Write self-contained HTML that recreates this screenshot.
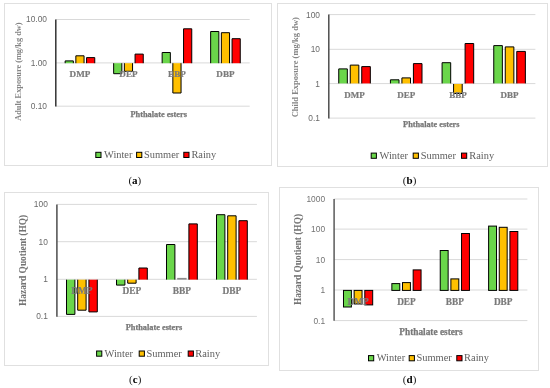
<!DOCTYPE html>
<html><head><meta charset="utf-8"><title>Phthalate esters exposure charts</title>
<style>
html,body{margin:0;padding:0;background:#fff;}
svg{display:block;filter:blur(0.3px);}
text{font-family:"Liberation Serif",serif;}
.tick{font-family:"Liberation Sans",sans-serif;font-size:8.4px;fill:#595959;text-anchor:end;}
.cat{font-weight:bold;fill:#7a7a7a;stroke:#7a7a7a;stroke-width:0.2px;text-anchor:middle;}
.xt{font-weight:bold;fill:#787878;stroke:#787878;stroke-width:0.25px;text-anchor:middle;}
.yt{font-weight:bold;fill:#858585;text-anchor:middle;}
.leg{fill:#606060;}
.cap{font-weight:bold;fill:#000;font-size:11px;text-anchor:middle;}
.par{font-weight:normal;fill:#1a1a1a;}
</style></head>
<body>
<svg width="550" height="388" viewBox="0 0 550 388">
<rect width="550" height="388" fill="#fff"/>
<rect x="4.5" y="3.5" width="267" height="162" fill="none" stroke="#e0e0e0" stroke-width="1"/>
<line x1="55.7" y1="19.5" x2="249.7" y2="19.5" stroke="#d9d9d9" stroke-width="1"/>
<text x="47" y="22.4" class="tick" style="fill:#6a6a6a">10.00</text>
<line x1="55.7" y1="62.9" x2="249.7" y2="62.9" stroke="#d9d9d9" stroke-width="1"/>
<text x="47" y="65.8" class="tick" style="fill:#6a6a6a">1.00</text>
<line x1="55.7" y1="106.2" x2="249.7" y2="106.2" stroke="#d9d9d9" stroke-width="1"/>
<text x="47" y="109.10000000000001" class="tick" style="fill:#6a6a6a">0.10</text>
<rect x="65.15" y="60.90" width="8.20" height="2.30" fill="#6ad64a"/>
<path d="M65.15 63.20V60.90H73.35V63.20" fill="none" stroke="#000" stroke-width="1"/>
<rect x="75.85" y="55.80" width="8.20" height="7.40" fill="#ffc000"/>
<path d="M75.85 63.20V55.80H84.05V63.20" fill="none" stroke="#000" stroke-width="1"/>
<rect x="86.55" y="57.60" width="8.20" height="5.60" fill="#ff0000"/>
<path d="M86.55 63.20V57.60H94.75V63.20" fill="none" stroke="#000" stroke-width="1"/>
<rect x="113.65" y="63.20" width="8.20" height="10.50" fill="#6ad64a"/>
<path d="M113.65 63.20V73.70H121.85V63.20" fill="none" stroke="#000" stroke-width="1"/>
<rect x="124.35" y="63.20" width="8.20" height="8.10" fill="#ffc000"/>
<path d="M124.35 63.20V71.30H132.55V63.20" fill="none" stroke="#000" stroke-width="1"/>
<rect x="135.05" y="54.10" width="8.20" height="9.10" fill="#ff0000"/>
<path d="M135.05 63.20V54.10H143.25V63.20" fill="none" stroke="#000" stroke-width="1"/>
<rect x="162.15" y="52.50" width="8.20" height="10.70" fill="#6ad64a"/>
<path d="M162.15 63.20V52.50H170.35V63.20" fill="none" stroke="#000" stroke-width="1"/>
<rect x="172.85" y="63.20" width="8.20" height="29.80" fill="#ffc000"/>
<path d="M172.85 63.20V93.00H181.05V63.20" fill="none" stroke="#000" stroke-width="1"/>
<rect x="183.55" y="28.80" width="8.20" height="34.40" fill="#ff0000"/>
<path d="M183.55 63.20V28.80H191.75V63.20" fill="none" stroke="#000" stroke-width="1"/>
<rect x="210.65" y="31.50" width="8.20" height="31.70" fill="#6ad64a"/>
<path d="M210.65 63.20V31.50H218.85V63.20" fill="none" stroke="#000" stroke-width="1"/>
<rect x="221.35" y="32.70" width="8.20" height="30.50" fill="#ffc000"/>
<path d="M221.35 63.20V32.70H229.55V63.20" fill="none" stroke="#000" stroke-width="1"/>
<rect x="232.05" y="38.70" width="8.20" height="24.50" fill="#ff0000"/>
<path d="M232.05 63.20V38.70H240.25V63.20" fill="none" stroke="#000" stroke-width="1"/>
<line x1="55.8" y1="19.5" x2="55.8" y2="106.4" stroke="#333333" stroke-width="1.5"/>
<text x="79.95" y="77.3" class="cat" style="font-size:9.1px">DMP</text>
<text x="128.45" y="77.3" class="cat" style="font-size:9.1px">DEP</text>
<text x="176.95" y="77.3" class="cat" style="font-size:9.1px">BBP</text>
<text x="225.45" y="77.3" class="cat" style="font-size:9.1px">DBP</text>
<text x="158.7" y="117.2" class="xt" style="font-size:8.3px">Phthalate esters</text>
<text transform="translate(21.3,71.6) rotate(-90)" x="0" y="0" class="yt" style="font-size:8.3px;fill:#858585;stroke:#858585;stroke-width:0px">Adult Exposure (mg/kg dw)</text>
<rect x="95.8" y="152.3" width="5.2" height="5.2" fill="#6ad64a" stroke="#000" stroke-width="1"/>
<text x="104" y="157.8" class="leg" style="font-size:10.4px">Winter</text>
<rect x="136.6" y="152.3" width="5.2" height="5.2" fill="#ffc000" stroke="#000" stroke-width="1"/>
<text x="144" y="157.8" class="leg" style="font-size:10.4px">Summer</text>
<rect x="183.8" y="152.3" width="5.2" height="5.2" fill="#ff0000" stroke="#000" stroke-width="1"/>
<text x="191.4" y="157.8" class="leg" style="font-size:10.4px">Rainy</text>
<text x="134.8" y="184" class="cap"><tspan class="par">(</tspan>a<tspan class="par">)</tspan></text>
<rect x="277.5" y="3.5" width="270" height="163" fill="none" stroke="#e0e0e0" stroke-width="1"/>
<line x1="328.7" y1="14.6" x2="535.4" y2="14.6" stroke="#d9d9d9" stroke-width="1"/>
<text x="320" y="17.5" class="tick" style="fill:#6a6a6a">100</text>
<line x1="328.7" y1="49.3" x2="535.4" y2="49.3" stroke="#d9d9d9" stroke-width="1"/>
<text x="320" y="52.199999999999996" class="tick" style="fill:#6a6a6a">10</text>
<line x1="328.7" y1="83.6" x2="535.4" y2="83.6" stroke="#d9d9d9" stroke-width="1"/>
<text x="320" y="86.5" class="tick" style="fill:#6a6a6a">1</text>
<line x1="328.7" y1="118.1" x2="535.4" y2="118.1" stroke="#d9d9d9" stroke-width="1"/>
<text x="320" y="121.0" class="tick" style="fill:#6a6a6a">0.1</text>
<rect x="338.74" y="68.90" width="8.60" height="14.50" fill="#6ad64a"/>
<path d="M338.74 83.40V68.90H347.34V83.40" fill="none" stroke="#000" stroke-width="1"/>
<rect x="350.24" y="65.10" width="8.60" height="18.30" fill="#ffc000"/>
<path d="M350.24 83.40V65.10H358.84V83.40" fill="none" stroke="#000" stroke-width="1"/>
<rect x="361.74" y="66.60" width="8.60" height="16.80" fill="#ff0000"/>
<path d="M361.74 83.40V66.60H370.34V83.40" fill="none" stroke="#000" stroke-width="1"/>
<rect x="390.41" y="79.80" width="8.60" height="3.60" fill="#6ad64a"/>
<path d="M390.41 83.40V79.80H399.01V83.40" fill="none" stroke="#000" stroke-width="1"/>
<rect x="401.91" y="77.90" width="8.60" height="5.50" fill="#ffc000"/>
<path d="M401.91 83.40V77.90H410.51V83.40" fill="none" stroke="#000" stroke-width="1"/>
<rect x="413.41" y="63.60" width="8.60" height="19.80" fill="#ff0000"/>
<path d="M413.41 83.40V63.60H422.01V83.40" fill="none" stroke="#000" stroke-width="1"/>
<rect x="442.09" y="62.70" width="8.60" height="20.70" fill="#6ad64a"/>
<path d="M442.09 83.40V62.70H450.69V83.40" fill="none" stroke="#000" stroke-width="1"/>
<rect x="453.59" y="84.00" width="8.60" height="9.50" fill="#ffc000"/>
<path d="M453.59 84.00V93.50H462.19V84.00" fill="none" stroke="#000" stroke-width="1"/>
<rect x="465.09" y="43.50" width="8.60" height="39.90" fill="#ff0000"/>
<path d="M465.09 83.40V43.50H473.69V83.40" fill="none" stroke="#000" stroke-width="1"/>
<rect x="493.76" y="45.60" width="8.60" height="37.80" fill="#6ad64a"/>
<path d="M493.76 83.40V45.60H502.36V83.40" fill="none" stroke="#000" stroke-width="1"/>
<rect x="505.26" y="46.90" width="8.60" height="36.50" fill="#ffc000"/>
<path d="M505.26 83.40V46.90H513.86V83.40" fill="none" stroke="#000" stroke-width="1"/>
<rect x="516.76" y="51.40" width="8.60" height="32.00" fill="#ff0000"/>
<path d="M516.76 83.40V51.40H525.36V83.40" fill="none" stroke="#000" stroke-width="1"/>
<line x1="328.8" y1="14.6" x2="328.8" y2="118.4" stroke="#4d4d4d" stroke-width="1.5"/>
<text x="354.54" y="97.5" class="cat" style="font-size:9px">DMP</text>
<text x="406.21" y="97.5" class="cat" style="font-size:9px">DEP</text>
<text x="457.89" y="97.5" class="cat" style="font-size:9px">BBP</text>
<text x="509.56" y="97.5" class="cat" style="font-size:9px">DBP</text>
<text x="431.3" y="127" class="xt" style="font-size:8.3px">Phthalate esters</text>
<text transform="translate(298.3,67.2) rotate(-90)" x="0" y="0" class="yt" style="font-size:8.5px;fill:#858585;stroke:#858585;stroke-width:0px">Child Exposure (mg/kg dw)</text>
<rect x="371.2" y="153.1" width="5.2" height="5.2" fill="#6ad64a" stroke="#000" stroke-width="1"/>
<text x="379.6" y="158.6" class="leg" style="font-size:10.4px">Winter</text>
<rect x="413.2" y="153.1" width="5.2" height="5.2" fill="#ffc000" stroke="#000" stroke-width="1"/>
<text x="420.7" y="158.6" class="leg" style="font-size:10.4px">Summer</text>
<rect x="461.5" y="153.1" width="5.2" height="5.2" fill="#ff0000" stroke="#000" stroke-width="1"/>
<text x="469.3" y="158.6" class="leg" style="font-size:10.4px">Rainy</text>
<text x="409.6" y="183.8" class="cap"><tspan class="par">(</tspan>b<tspan class="par">)</tspan></text>
<rect x="4.5" y="192.5" width="264" height="173" fill="none" stroke="#e0e0e0" stroke-width="1"/>
<line x1="56.9" y1="204.4" x2="256.9" y2="204.4" stroke="#d9d9d9" stroke-width="1"/>
<text x="47.8" y="207.3" class="tick" style="fill:#6a6a6a">100</text>
<line x1="56.9" y1="241.7" x2="256.9" y2="241.7" stroke="#d9d9d9" stroke-width="1"/>
<text x="47.8" y="244.6" class="tick" style="fill:#6a6a6a">10</text>
<line x1="56.9" y1="279.3" x2="256.9" y2="279.3" stroke="#d9d9d9" stroke-width="1"/>
<text x="47.8" y="282.2" class="tick" style="fill:#6a6a6a">1</text>
<line x1="56.9" y1="316.4" x2="256.9" y2="316.4" stroke="#d9d9d9" stroke-width="1"/>
<text x="47.8" y="319.29999999999995" class="tick" style="fill:#6a6a6a">0.1</text>
<rect x="66.50" y="279.70" width="8.40" height="34.70" fill="#6ad64a"/>
<path d="M66.50 279.70V314.40H74.90V279.70" fill="none" stroke="#000" stroke-width="1"/>
<rect x="77.70" y="279.70" width="8.40" height="30.50" fill="#ffc000"/>
<path d="M77.70 279.70V310.20H86.10V279.70" fill="none" stroke="#000" stroke-width="1"/>
<rect x="88.90" y="279.70" width="8.40" height="32.20" fill="#ff0000"/>
<path d="M88.90 279.70V311.90H97.30V279.70" fill="none" stroke="#000" stroke-width="1"/>
<rect x="116.50" y="279.70" width="8.40" height="5.40" fill="#6ad64a"/>
<path d="M116.50 279.70V285.10H124.90V279.70" fill="none" stroke="#000" stroke-width="1"/>
<rect x="127.70" y="279.70" width="8.40" height="3.50" fill="#ffc000"/>
<path d="M127.70 279.70V283.20H136.10V279.70" fill="none" stroke="#000" stroke-width="1"/>
<rect x="138.90" y="268.00" width="8.40" height="11.60" fill="#ff0000"/>
<path d="M138.90 279.60V268.00H147.30V279.60" fill="none" stroke="#000" stroke-width="1"/>
<rect x="166.50" y="244.50" width="8.40" height="35.10" fill="#6ad64a"/>
<path d="M166.50 279.60V244.50H174.90V279.60" fill="none" stroke="#000" stroke-width="1"/>
<rect x="177.20" y="277.90" width="9.40" height="1.70" fill="#8c8c8c"/>
<rect x="188.90" y="223.90" width="8.40" height="55.70" fill="#ff0000"/>
<path d="M188.90 279.60V223.90H197.30V279.60" fill="none" stroke="#000" stroke-width="1"/>
<rect x="216.50" y="214.70" width="8.40" height="64.90" fill="#6ad64a"/>
<path d="M216.50 279.60V214.70H224.90V279.60" fill="none" stroke="#000" stroke-width="1"/>
<rect x="227.70" y="215.80" width="8.40" height="63.80" fill="#ffc000"/>
<path d="M227.70 279.60V215.80H236.10V279.60" fill="none" stroke="#000" stroke-width="1"/>
<rect x="238.90" y="220.70" width="8.40" height="58.90" fill="#ff0000"/>
<path d="M238.90 279.60V220.70H247.30V279.60" fill="none" stroke="#000" stroke-width="1"/>
<line x1="56.9" y1="204.4" x2="56.9" y2="316.7" stroke="#4d4d4d" stroke-width="1.5"/>
<text x="81.90" y="293.9" class="cat" style="font-size:9.4px">DMP</text>
<text x="131.90" y="293.9" class="cat" style="font-size:9.4px">DEP</text>
<text x="181.90" y="293.9" class="cat" style="font-size:9.4px">BBP</text>
<text x="231.90" y="293.9" class="cat" style="font-size:9.4px">DBP</text>
<text x="154" y="329.7" class="xt" style="font-size:8.3px">Phthalate esters</text>
<text transform="translate(26,260.4) rotate(-90)" x="0" y="0" class="yt" style="font-size:9.4px;fill:#737373;stroke:#737373;stroke-width:0.05px">Hazard Quotient (HQ)</text>
<rect x="96.6" y="351.0" width="5.2" height="5.2" fill="#6ad64a" stroke="#000" stroke-width="1"/>
<text x="104.6" y="356.5" class="leg" style="font-size:10.4px">Winter</text>
<rect x="139.2" y="351.0" width="5.2" height="5.2" fill="#ffc000" stroke="#000" stroke-width="1"/>
<text x="146.5" y="356.5" class="leg" style="font-size:10.4px">Summer</text>
<rect x="188.2" y="351.0" width="5.2" height="5.2" fill="#ff0000" stroke="#000" stroke-width="1"/>
<text x="195.3" y="356.5" class="leg" style="font-size:10.4px">Rainy</text>
<text x="135.2" y="382.5" class="cap"><tspan class="par">(</tspan>c<tspan class="par">)</tspan></text>
<rect x="279.5" y="187.5" width="259" height="183" fill="none" stroke="#e0e0e0" stroke-width="1"/>
<line x1="333.9" y1="199" x2="527.4" y2="199" stroke="#d9d9d9" stroke-width="1"/>
<text x="325.1" y="201.9" class="tick" style="fill:#737373">1000</text>
<line x1="333.9" y1="229.1" x2="527.4" y2="229.1" stroke="#d9d9d9" stroke-width="1"/>
<text x="325.1" y="232.0" class="tick" style="fill:#737373">100</text>
<line x1="333.9" y1="259.6" x2="527.4" y2="259.6" stroke="#d9d9d9" stroke-width="1"/>
<text x="325.1" y="262.5" class="tick" style="fill:#737373">10</text>
<line x1="333.9" y1="290" x2="527.4" y2="290" stroke="#d9d9d9" stroke-width="1"/>
<text x="325.1" y="292.9" class="tick" style="fill:#737373">1</text>
<line x1="333.9" y1="320.6" x2="527.4" y2="320.6" stroke="#d9d9d9" stroke-width="1"/>
<text x="325.1" y="323.5" class="tick" style="fill:#737373">0.1</text>
<rect x="343.49" y="290.40" width="7.90" height="16.60" fill="#6ad64a" stroke="#000" stroke-width="1"/>
<rect x="354.14" y="290.40" width="7.90" height="13.50" fill="#ffc000" stroke="#000" stroke-width="1"/>
<rect x="364.79" y="290.40" width="7.90" height="14.50" fill="#ff0000" stroke="#000" stroke-width="1"/>
<rect x="391.86" y="283.60" width="7.90" height="6.80" fill="#6ad64a" stroke="#000" stroke-width="1"/>
<rect x="402.51" y="282.60" width="7.90" height="7.80" fill="#ffc000" stroke="#000" stroke-width="1"/>
<rect x="413.16" y="269.90" width="7.90" height="20.50" fill="#ff0000" stroke="#000" stroke-width="1"/>
<rect x="440.24" y="250.50" width="7.90" height="39.90" fill="#6ad64a" stroke="#000" stroke-width="1"/>
<rect x="450.89" y="278.90" width="7.90" height="11.50" fill="#ffc000" stroke="#000" stroke-width="1"/>
<rect x="461.54" y="233.50" width="7.90" height="56.90" fill="#ff0000" stroke="#000" stroke-width="1"/>
<rect x="488.61" y="226.10" width="7.90" height="64.30" fill="#6ad64a" stroke="#000" stroke-width="1"/>
<rect x="499.26" y="227.30" width="7.90" height="63.10" fill="#ffc000" stroke="#000" stroke-width="1"/>
<rect x="509.91" y="231.50" width="7.90" height="58.90" fill="#ff0000" stroke="#000" stroke-width="1"/>
<line x1="334.1" y1="199" x2="334.1" y2="320.8" stroke="#5a5a5a" stroke-width="1.5"/>
<text x="358.09" y="304.8" class="cat" style="font-size:9.3px">DMP</text>
<text x="406.46" y="304.8" class="cat" style="font-size:9.3px">DEP</text>
<text x="454.84" y="304.8" class="cat" style="font-size:9.3px">BBP</text>
<text x="503.21" y="304.8" class="cat" style="font-size:9.3px">DBP</text>
<text x="431" y="334.8" class="xt" style="font-size:9.3px">Phthalate esters</text>
<text transform="translate(300.6,259.5) rotate(-90)" x="0" y="0" class="yt" style="font-size:9.4px;fill:#737373;stroke:#737373;stroke-width:0.05px">Hazard Quotient (HQ)</text>
<rect x="368.5" y="355.6" width="5.2" height="5.2" fill="#6ad64a" stroke="#000" stroke-width="1"/>
<text x="376.7" y="361.1" class="leg" style="font-size:10.4px">Winter</text>
<rect x="409.2" y="355.6" width="5.2" height="5.2" fill="#ffc000" stroke="#000" stroke-width="1"/>
<text x="416.5" y="361.1" class="leg" style="font-size:10.4px">Summer</text>
<rect x="456.8" y="355.6" width="5.2" height="5.2" fill="#ff0000" stroke="#000" stroke-width="1"/>
<text x="464.1" y="361.1" class="leg" style="font-size:10.4px">Rainy</text>
<text x="409.6" y="382.5" class="cap"><tspan class="par">(</tspan>d<tspan class="par">)</tspan></text>
</svg>
</body></html>
